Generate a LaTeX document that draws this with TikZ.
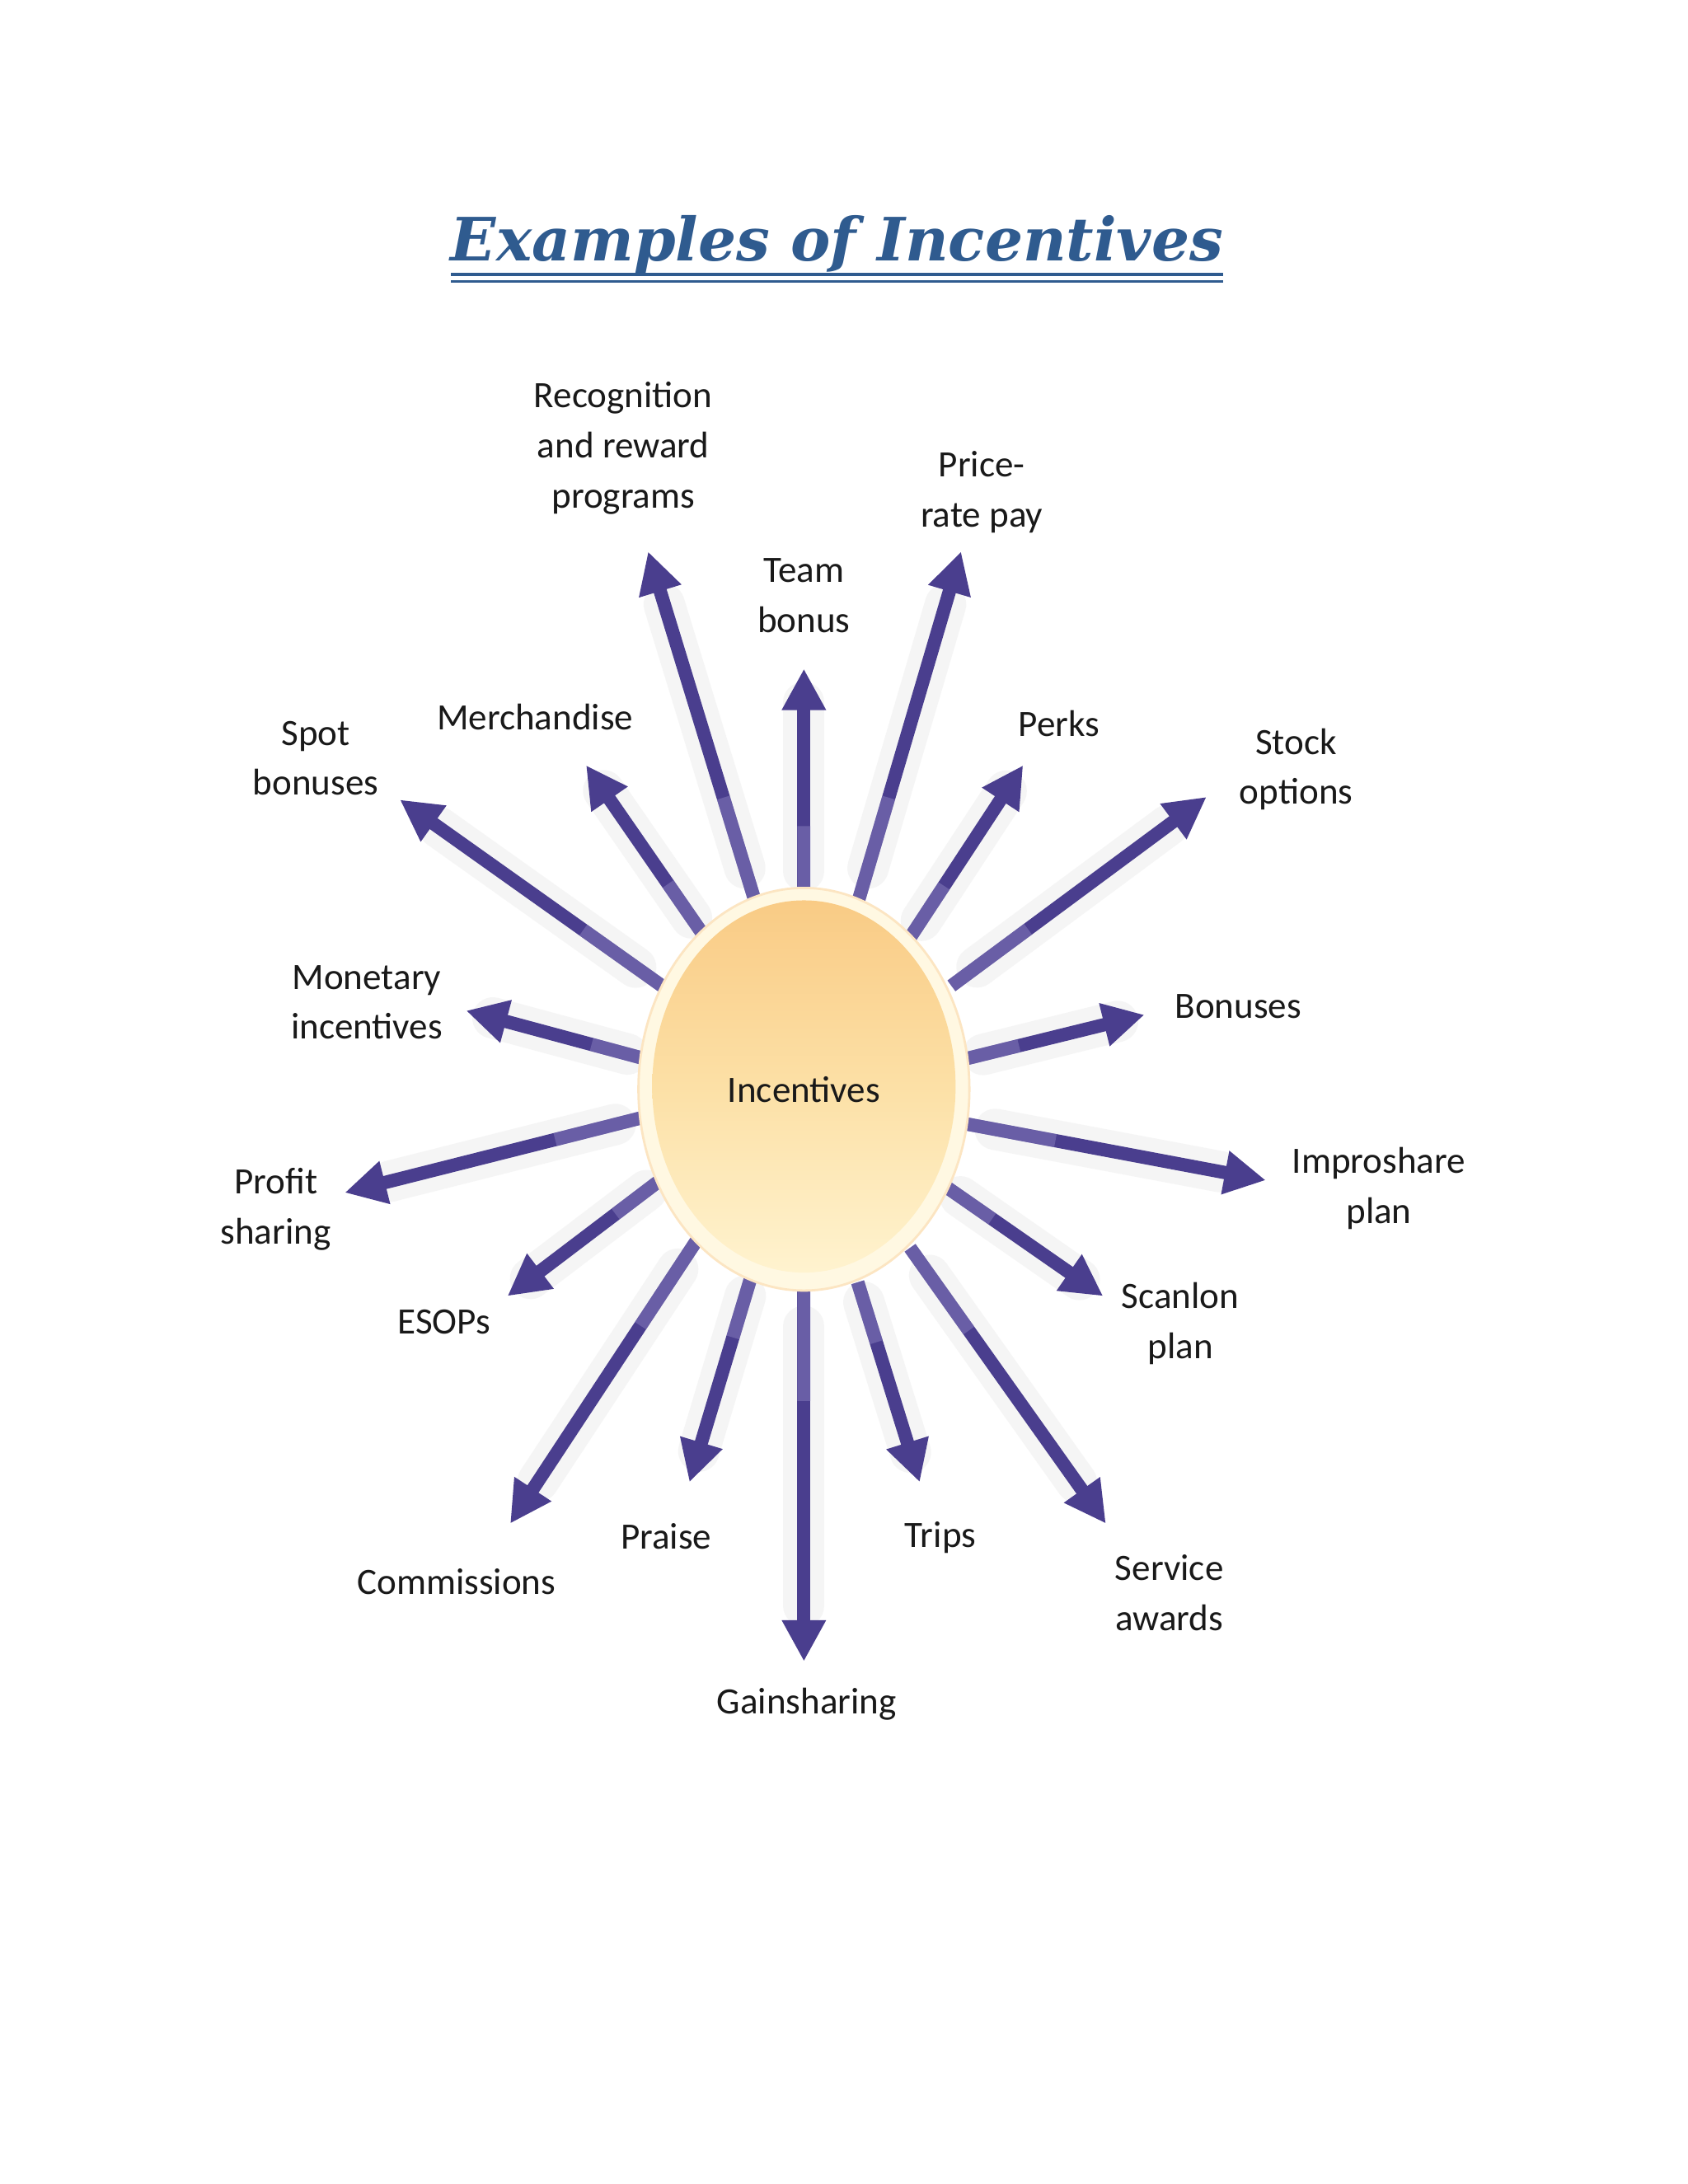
\documentclass[tikz,border=0pt]{standalone}
\usepackage{fontspec}
\setmainfont{Carlito}
\newfontfamily\titlefont{DejaVu Serif}
\usetikzlibrary{arrows.meta,shapes.geometric,calc}
\definecolor{arr}{HTML}{4A3E8E}
\definecolor{arrl}{HTML}{8F86C4}
\definecolor{ttl}{HTML}{2F5B8F}
\definecolor{etop}{HTML}{F9CB85}
\definecolor{emid}{HTML}{FCE0A6}
\definecolor{ebot}{HTML}{FFF3CF}
\tikzset{
 lab/.style={font=\fontsize{23}{31}\selectfont, align=center, text=black!90},
 ray/.style={line width=2.9mm, arr, -{Triangle[length=9mm,width=9mm]}},
 glow/.style={line width=9mm, black!7, opacity=0.5, line cap=round},
}
\begin{document}
\begin{tikzpicture}[x=0.3mm,y=-0.3mm]
\useasboundingbox[fill=white] (0,0) rectangle (1224,1584);
\node[font=\titlefont\bfseries\itshape\fontsize{37}{44}\selectfont, text=ttl] (title) at (607,177) {Examples of Incentives};
\draw[ttl, line width=0.6mm] (327,199) -- (887,199);
\draw[ttl, line width=0.6mm] (327,204) -- (887,204);
\foreach \n/\sx/\sy/\tx/\ty in {
 rec/548/655/470/400, team/583/648/583/485, price/622/655/697/400,
 perks/660/680/742/555, stock/690/715/875/578, bon/700/768/830/736,
 impro/700/815/918/856, scan/685/860/800/940, serv/660/905/802/1105,
 trips/622/930/667/1075, gain/583/935/583/1205, praise/545/925/500/1075,
 comm/505/900/370/1105, esop/480/855/368/940, profit/468/810/250/865,
 mon/468/768/338/733, spot/480/715/290/580, merch/510/678/425/555}{
 \coordinate (\n-s) at (\sx,\sy);
 \coordinate (\n-t) at (\tx,\ty);
 \draw[glow] ($(\n-s)!0.1!(\n-t)$) -- ($(\n-s)!0.85!(\n-t)$);
}
\foreach \n in {rec,team,price,perks,stock,bon,impro,scan,serv,trips,gain,praise,comm,esop,profit,mon,spot,merch}{
 \draw[ray] (\n-s) -- (\n-t);
 \draw[line width=2.9mm, arrl, opacity=0.45] (\n-s) -- ($(\n-s)!0.3!(\n-t)$);
}
\node[ellipse, minimum width=240*0.3mm, minimum height=292*0.3mm, fill=ebot!60!white, draw=etop!50, line width=0.5mm] (cen) at (583,790) {};
\node[ellipse, minimum width=220*0.3mm, minimum height=270*0.3mm, top color=etop, bottom color=ebot, middle color=emid] (inner) at (583,788) {};
\node[lab] (inc) at (583,790) {Incentives};
\node[lab] (l-rec) at (452,325) {Recognition\\and reward\\programs};
\node[lab] (l-team) at (583,432) {Team\\bonus};
\node[lab] (l-price) at (712,357) {Price-\\rate pay};
\node[lab] (l-perks) at (768,525) {Perks};
\node[lab] (l-stock) at (940,558) {Stock\\options};
\node[lab] (l-bon) at (898,730) {Bonuses};
\node[lab] (l-impro) at (1000,862) {Improshare\\plan};
\node[lab] (l-scan) at (856,960) {Scanlon\\plan};
\node[lab] (l-serv) at (848,1155) {Service\\awards};
\node[lab] (l-trips) at (682,1115) {Trips};
\node[lab] (l-gain) at (585,1236) {Gainsharing};
\node[lab] (l-praise) at (483,1114) {Praise};
\node[lab] (l-comm) at (331,1147) {Commissions};
\node[lab] (l-esop) at (322,959) {ESOPs};
\node[lab] (l-profit) at (200,877) {Profit\\sharing};
\node[lab] (l-mon) at (266,727) {Monetary\\incentives};
\node[lab] (l-spot) at (229,550) {Spot\\bonuses};
\node[lab] (l-merch) at (388,520) {Merchandise};
\end{tikzpicture}
\end{document}
